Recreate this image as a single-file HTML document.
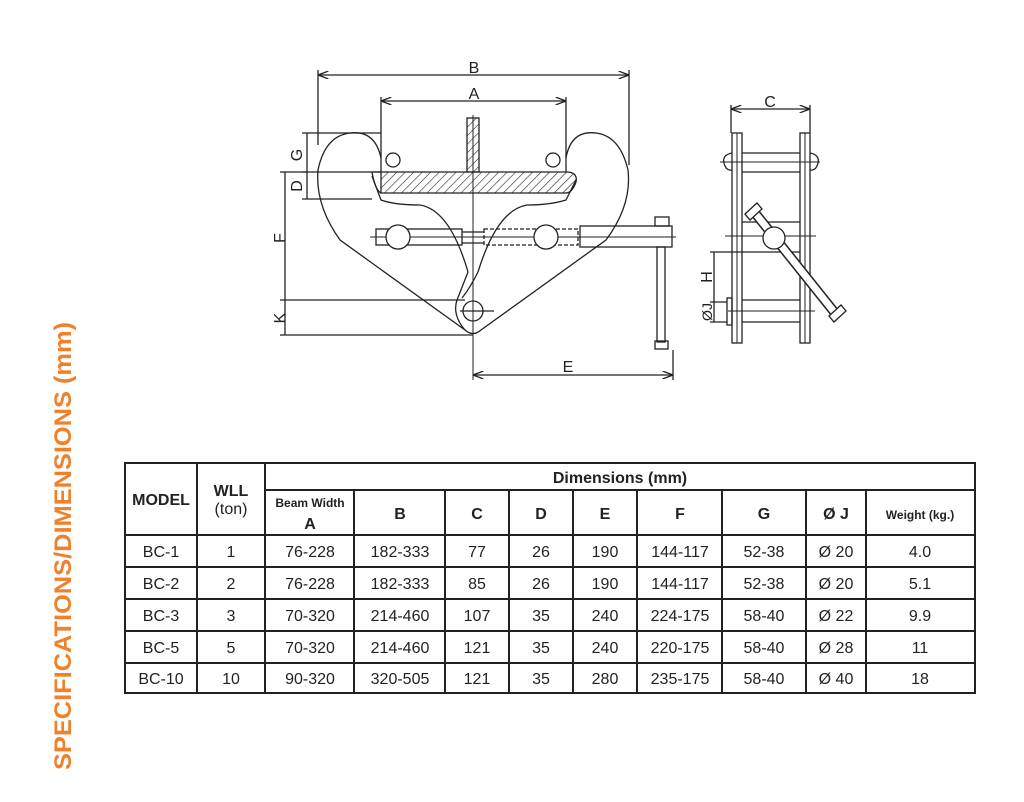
<!DOCTYPE html>
<html><head><meta charset="utf-8"><style>
html,body{margin:0;padding:0;background:#fff;}
svg{display:block;}
</style></head><body>
<svg width="1024" height="802" viewBox="0 0 1024 802" xmlns="http://www.w3.org/2000/svg" font-family="Liberation Sans, sans-serif">
<defs>
<pattern id="h" width="6" height="6" patternUnits="userSpaceOnUse" patternTransform="rotate(45)">
<line x1="0" y1="0" x2="0" y2="6" stroke="#222" stroke-width="1.2"/>
</pattern>
<marker id="ar" markerWidth="8" markerHeight="6" refX="8" refY="3" orient="auto-start-reverse"><path d="M0,0 L8,3 L0,6" fill="none" stroke="#222" stroke-width="1"/></marker>
</defs>
<rect width="1024" height="802" fill="#fff"/>
<text transform="translate(71,770) rotate(-90)" font-size="24" font-weight="bold" fill="#f0812a" textLength="448" lengthAdjust="spacingAndGlyphs">SPECIFICATIONS/DIMENSIONS (mm)</text>

<g stroke="#222" stroke-width="1.3" fill="none">
<line x1="318" y1="75" x2="629" y2="75" marker-start="url(#ar)" marker-end="url(#ar)"/>
<line x1="318" y1="70" x2="318" y2="145"/>
<line x1="629" y1="70" x2="629" y2="165"/>
<line x1="381" y1="101" x2="566" y2="101" marker-start="url(#ar)" marker-end="url(#ar)"/>
<line x1="381" y1="97" x2="381" y2="172"/>
<line x1="566" y1="97" x2="566" y2="172"/>
<rect x="467" y="118" width="12" height="54" fill="url(#h)"/>
<path d="M381,172 H566 Q578,172 576,182 Q572,193 566,193 H381 Z" fill="url(#h)"/>
<path d="M381,172 H372 Q375,190 381,193" />
<path d="M381,158 Q375,130 350,133 Q325,136 318,170 Q315,205 340,240 L465,330 Q473,337 481,330 L606,240 Q632,205 628,170 Q620,136 596,133 Q571,130 566,158"/>
<path d="M372,176 L381,200 Q395,205 420,205 Q450,210 468,272"/>
<path d="M576,180 L566,200 Q550,205 527,205 Q497,210 478,272"/>
<path d="M457,300 Q452,315 465,330"/>
<path d="M468,272 L457,300"/>
<path d="M478,272 Q470,288 462,298"/>
<circle cx="393" cy="160" r="7"/>
<circle cx="553" cy="160" r="7"/>
<circle cx="473" cy="311" r="10"/>
<line x1="460" y1="311" x2="494" y2="311"/>
<line x1="473" y1="115" x2="473" y2="380" stroke-width="1"/>
<rect x="376" y="229" width="86" height="16"/>
<rect x="484" y="229" width="94" height="16" stroke-dasharray="4,2"/>
<rect x="580" y="226" width="92" height="21"/>
<line x1="462" y1="232" x2="484" y2="232"/>
<line x1="462" y1="243" x2="484" y2="243"/>
<line x1="370" y1="237" x2="676" y2="237" stroke-width="1"/>
<circle cx="398" cy="237" r="12" fill="#fff"/>
<circle cx="546" cy="237" r="12" fill="#fff"/>
<rect x="655" y="217" width="14" height="9"/>
<rect x="657" y="247" width="8" height="95"/>
<rect x="655" y="341" width="13" height="8"/>
<line x1="302" y1="133" x2="381" y2="133"/>
<line x1="302" y1="172" x2="381" y2="172"/>
<line x1="302" y1="199" x2="372" y2="199"/>
<line x1="307" y1="133" x2="307" y2="199"/>
<line x1="280" y1="172" x2="307" y2="172"/>
<line x1="285" y1="172" x2="285" y2="335"/>
<line x1="280" y1="300" x2="465" y2="300"/>
<line x1="280" y1="335" x2="473" y2="335"/>
<line x1="473" y1="375" x2="673" y2="375" marker-start="url(#ar)" marker-end="url(#ar)"/>
<line x1="673" y1="350" x2="673" y2="380"/>

<line x1="731" y1="109" x2="810" y2="109" marker-start="url(#ar)" marker-end="url(#ar)"/>
<line x1="731" y1="105" x2="731" y2="133"/>
<line x1="810" y1="105" x2="810" y2="133"/>
<rect x="732" y="133" width="10" height="210"/>
<rect x="800" y="133" width="10" height="210"/>
<line x1="737" y1="133" x2="737" y2="343" stroke-width="1"/>
<line x1="805" y1="133" x2="805" y2="343" stroke-width="1"/>
<line x1="742" y1="153" x2="800" y2="153"/>
<line x1="742" y1="172" x2="800" y2="172"/>
<path d="M732,153 Q722,155 724,163 Q726,171 732,170"/>
<path d="M810,153 Q820,155 818,163 Q816,171 810,170"/>
<line x1="720" y1="162" x2="820" y2="162" stroke-width="1"/>
<line x1="725" y1="236" x2="816" y2="236" stroke-width="1"/>
<line x1="742" y1="222" x2="800" y2="222"/>
<line x1="742" y1="252" x2="800" y2="252"/>
<line x1="742" y1="300" x2="800" y2="300"/>
<line x1="742" y1="322" x2="800" y2="322"/>
<line x1="728" y1="311" x2="815" y2="311" stroke-width="1"/>
<rect x="727" y="298" width="5" height="27"/>
<line x1="755" y1="213" x2="835" y2="313" stroke-width="10" stroke="#222"/>
<line x1="755" y1="213" x2="835" y2="313" stroke-width="7" stroke="#fff"/>
<circle cx="774" cy="238" r="11" fill="#fff"/>
<path d="M745,214 L757,203 L762,209 L750,220 Z" fill="#fff"/>
<path d="M829,316 L841,305 L846,311 L834,322 Z" fill="#fff"/>
<line x1="710" y1="252" x2="742" y2="252"/>
<line x1="714" y1="252" x2="714" y2="322"/>
<line x1="710" y1="302" x2="727" y2="302"/>
<line x1="710" y1="322" x2="727" y2="322"/>
</g>

<g font-size="16" fill="#222">
<text x="474" y="73" text-anchor="middle">B</text>
<text x="474" y="99" text-anchor="middle">A</text>
<text x="568" y="372" text-anchor="middle">E</text>
<text x="770" y="107" text-anchor="middle">C</text>
<text transform="translate(302,155) rotate(-90)" text-anchor="middle">G</text>
<text transform="translate(302,186) rotate(-90)" text-anchor="middle">D</text>
<text transform="translate(285,238) rotate(-90)" text-anchor="middle">F</text>
<text transform="translate(285,318) rotate(-90)" text-anchor="middle">K</text>
<text transform="translate(712,277) rotate(-90)" text-anchor="middle">H</text>
<text transform="translate(712,312) rotate(-90)" text-anchor="middle" font-size="14">ØJ</text>
</g>

<g stroke="#222" stroke-width="2" fill="none">
<rect x="125" y="463" width="850" height="230"/>
<line x1="265" y1="490" x2="975" y2="490"/>
<line x1="125" y1="535" x2="975" y2="535"/>
<line x1="125" y1="567" x2="975" y2="567"/>
<line x1="125" y1="599" x2="975" y2="599"/>
<line x1="125" y1="631" x2="975" y2="631"/>
<line x1="125" y1="663" x2="975" y2="663"/>
<line x1="197" y1="463" x2="197" y2="693"/>
<line x1="265" y1="463" x2="265" y2="693"/>
<line x1="354" y1="490" x2="354" y2="693"/>
<line x1="445" y1="490" x2="445" y2="693"/>
<line x1="509" y1="490" x2="509" y2="693"/>
<line x1="573" y1="490" x2="573" y2="693"/>
<line x1="637" y1="490" x2="637" y2="693"/>
<line x1="722" y1="490" x2="722" y2="693"/>
<line x1="806" y1="490" x2="806" y2="693"/>
<line x1="866" y1="490" x2="866" y2="693"/>
</g>
<g font-size="16" fill="#222" text-anchor="middle">
<g font-weight="bold">
<text x="620" y="483">Dimensions (mm)</text>
<text x="161" y="505">MODEL</text>
<text x="231" y="496">WLL</text>
<text x="231" y="514" font-weight="normal">(ton)</text>
<text x="310" y="507" font-size="12">Beam Width</text>
<text x="310" y="529">A</text>
<text x="400" y="519">B</text>
<text x="477" y="519">C</text>
<text x="541" y="519">D</text>
<text x="605" y="519">E</text>
<text x="680" y="519">F</text>
<text x="764" y="519">G</text>
<text x="836" y="519">Ø J</text>
<text x="920" y="519" font-size="12">Weight (kg.)</text>
</g>
<g>
<text x="161" y="557">BC-1</text><text x="231" y="557">1</text><text x="310" y="557">76-228</text><text x="400" y="557">182-333</text><text x="477" y="557">77</text><text x="541" y="557">26</text><text x="605" y="557">190</text><text x="680" y="557">144-117</text><text x="764" y="557">52-38</text><text x="836" y="557">Ø 20</text><text x="920" y="557">4.0</text>
<text x="161" y="589">BC-2</text><text x="231" y="589">2</text><text x="310" y="589">76-228</text><text x="400" y="589">182-333</text><text x="477" y="589">85</text><text x="541" y="589">26</text><text x="605" y="589">190</text><text x="680" y="589">144-117</text><text x="764" y="589">52-38</text><text x="836" y="589">Ø 20</text><text x="920" y="589">5.1</text>
<text x="161" y="621">BC-3</text><text x="231" y="621">3</text><text x="310" y="621">70-320</text><text x="400" y="621">214-460</text><text x="477" y="621">107</text><text x="541" y="621">35</text><text x="605" y="621">240</text><text x="680" y="621">224-175</text><text x="764" y="621">58-40</text><text x="836" y="621">Ø 22</text><text x="920" y="621">9.9</text>
<text x="161" y="653">BC-5</text><text x="231" y="653">5</text><text x="310" y="653">70-320</text><text x="400" y="653">214-460</text><text x="477" y="653">121</text><text x="541" y="653">35</text><text x="605" y="653">240</text><text x="680" y="653">220-175</text><text x="764" y="653">58-40</text><text x="836" y="653">Ø 28</text><text x="920" y="653">11</text>
<text x="161" y="684">BC-10</text><text x="231" y="684">10</text><text x="310" y="684">90-320</text><text x="400" y="684">320-505</text><text x="477" y="684">121</text><text x="541" y="684">35</text><text x="605" y="684">280</text><text x="680" y="684">235-175</text><text x="764" y="684">58-40</text><text x="836" y="684">Ø 40</text><text x="920" y="684">18</text>
</g>
</g>
</svg>
</body></html>
